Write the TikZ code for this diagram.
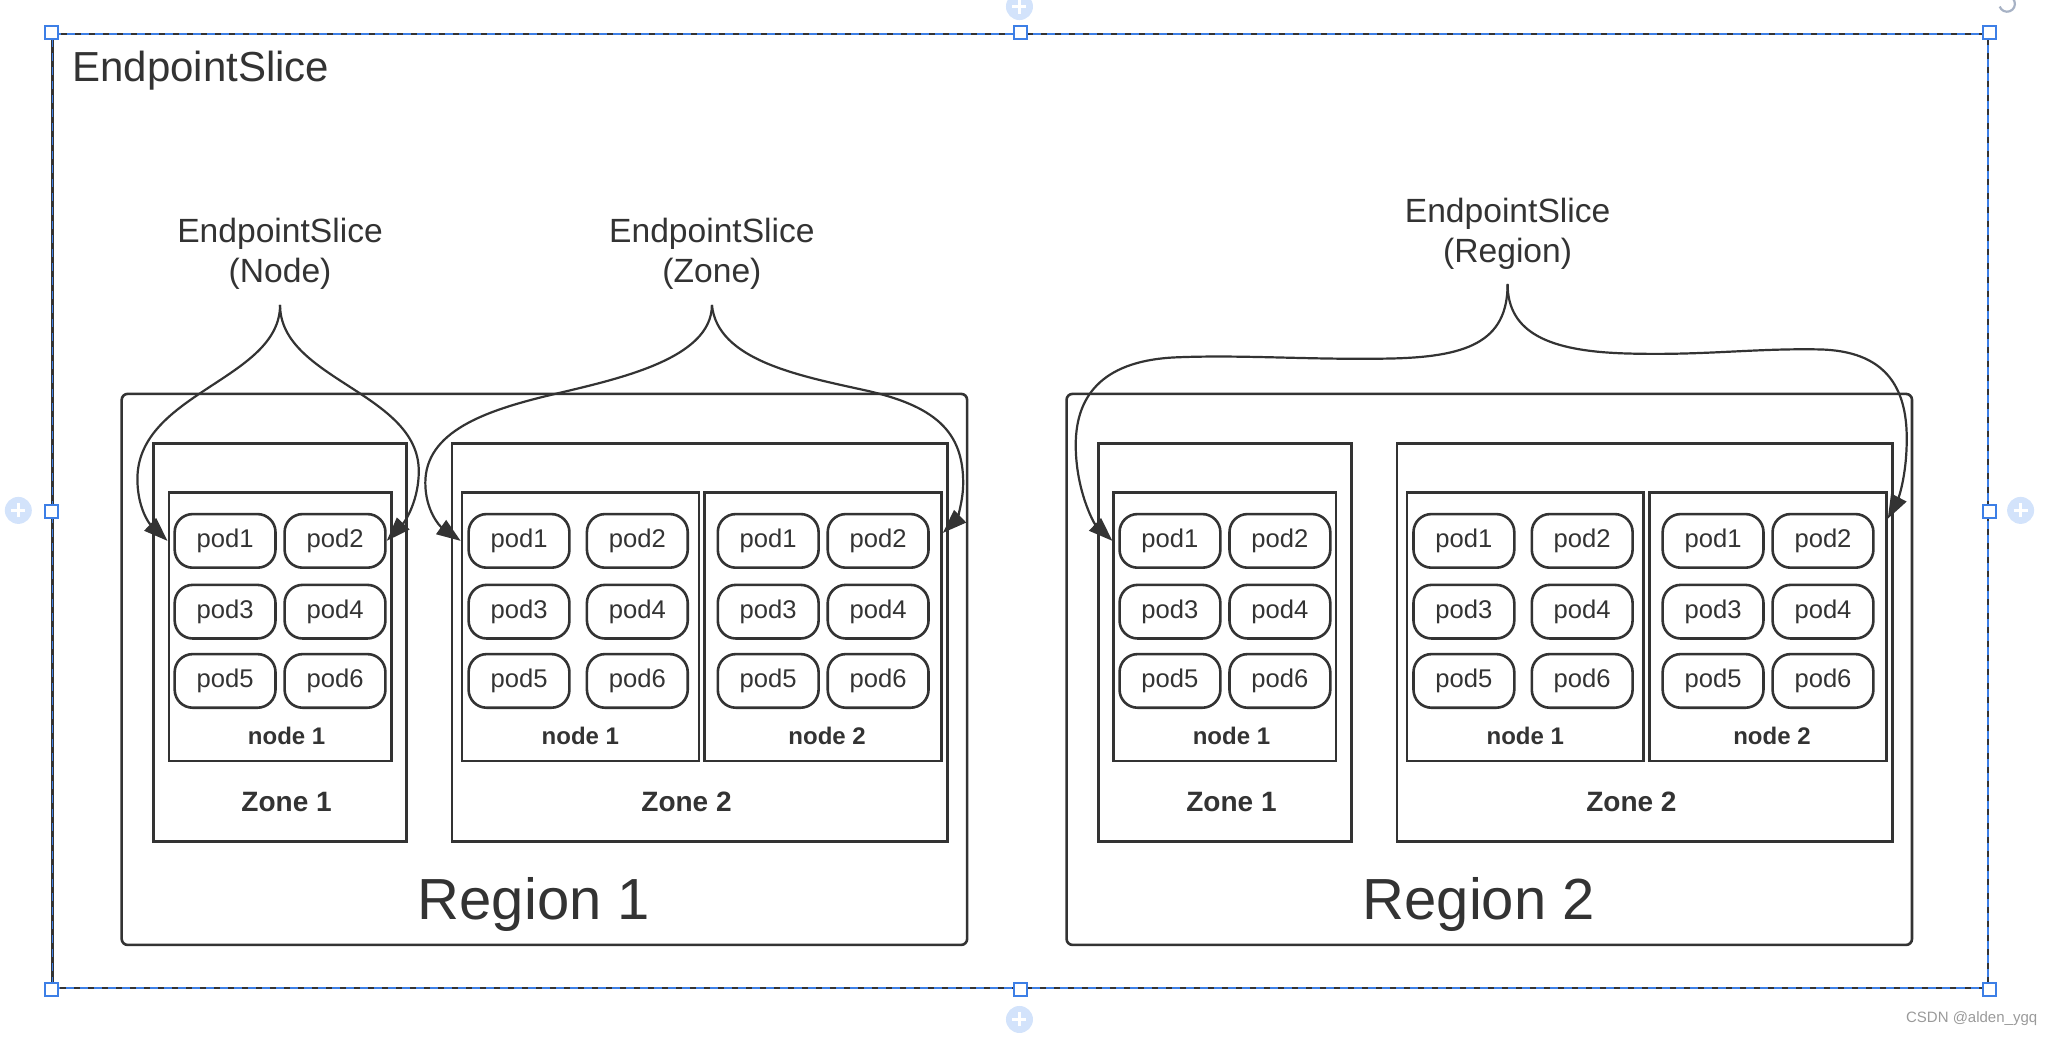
\documentclass[tikz,border=0pt]{standalone}
\usepackage{fontspec}
\setmainfont{Liberation Sans}
\usetikzlibrary{arrows.meta}
\definecolor{inkgray}{HTML}{333333}
\definecolor{selblue}{HTML}{3D7FE6}
\definecolor{plusblue}{HTML}{D3E3FB}
\definecolor{markgray}{HTML}{9A9A9A}
\begin{document}
\begin{tikzpicture}[
x=0.6543pt, y=-0.6543pt,
every node/.style={text=inkgray, inner sep=0pt},
box/.style={rectangle, draw=inkgray, line width=1.3pt},
sliceframe/.style={rectangle, draw=inkgray, line width=1.3pt, minimum width=967.7pt, minimum height=477pt, postaction={draw=selblue, line width=0.8pt, dash pattern=on 4pt off 3pt}},
region/.style={box, rounded corners=3pt, minimum width=422.7pt, minimum height=275.5pt},
zone/.style={box, minimum height=199.1pt},
hostbox/.style={box, minimum height=134.3pt},
pod/.style={box, rounded corners=9pt, minimum width=50.4pt, minimum height=26.8pt, font=\fontsize{12.8}{14}\selectfont},
hostlabel/.style={font=\bfseries\fontsize{12}{14}\selectfont},
zonelabel/.style={font=\bfseries\fontsize{14}{17}\selectfont},
regionlabel/.style={font=\fontsize{29}{35}\selectfont},
slicelabel/.style={align=center, font=\fontsize{16.8}{19.8}\selectfont},
link/.style={draw=inkgray, line width=1.1pt, -{Triangle[length=12pt, width=8.5pt]}},
handle/.style={rectangle, draw=selblue, fill=white, line width=1pt, minimum size=6.5pt},
plus/.style={circle, fill=plusblue, minimum size=13.5pt, path picture={
  \draw[white, line width=1.4pt] ([xshift=-3.5pt]path picture bounding box.center) -- ([xshift=3.5pt]path picture bounding box.center)
    ([yshift=-3.5pt]path picture bounding box.center) -- ([yshift=3.5pt]path picture bounding box.center);}}
]
\useasboundingbox (0,0) rectangle (1568,792);

% outer EndpointSlice frame (editor selection)
\node (slice) [sliceframe] at (779.5,390.5) {};
\node (title) [anchor=west, font=\fontsize{21}{25}\selectfont] at (55,54) {EndpointSlice};

% two regions, same layout
\foreach \r/\dx in {1/0, 2/722} {
\begin{scope}[shift={(\dx,0)}]
\node (r\r) [region] at (416,511.5) {};
\node (r\r-lbl) [regionlabel] at (408,691) {Region \r};
\node (r\r-z1) [zone, minimum width=126.3pt] at (214,491) {};
\node (r\r-z1-lbl) [zonelabel] at (219,613) {Zone 1};
\node (r\r-z2) [zone, minimum width=247.7pt] at (534.7,491) {};
\node (r\r-z2-lbl) [zonelabel] at (524.6,613) {Zone 2};
\node (r\r-z1-n1) [hostbox, minimum width=111.2pt] at (214,479) {};
\node (r\r-z1-n1-lbl) [hostlabel] at (219,562) {node 1};
\node (r\r-z2-n1) [hostbox, minimum width=118.4pt] at (443.5,479) {};
\node (r\r-z2-n1-lbl) [hostlabel] at (443.5,562) {node 1};
\node (r\r-z2-n2) [hostbox, minimum width=118.4pt] at (629,479) {};
\node (r\r-z2-n2-lbl) [hostlabel] at (632,562) {node 2};
\foreach \h/\xa/\xb in {z1-n1/172/256, z2-n1/396.6/487, z2-n2/587/671}
  \foreach \y/\a/\b in {413.3/1/2, 467.4/3/4, 520.3/5/6} {
    \node (r\r-\h-p\a) [pod] at (\xa,\y) {pod\a};
    \node (r\r-\h-p\b) [pod] at (\xb,\y) {pod\b};
  }
\end{scope}
}

% slice labels
\node (slice-node) [slicelabel] at (214,194) {EndpointSlice\\(Node)};
\node (slice-zone) [slicelabel] at (544,194) {EndpointSlice\\(Zone)};
\node (slice-region) [slicelabel] at (1152,178.5) {EndpointSlice\\(Region)};
\coordinate (sn-top) at (214,233);
\coordinate (sz-top) at (544,233);
\coordinate (sr-top) at (1152,217);

\draw [link] (sn-top) .. controls (214,290) and (105,300) .. (105,366) .. controls (105,388) and (114,400) .. (r1-z1-n1.west |- r1-z1-n1-p1);
\draw [link] (sn-top) .. controls (214,290) and (320,300) .. (320,360) .. controls (320,382) and (310,398) .. (r1-z1-n1-p2.east);
\draw [link] (sz-top) .. controls (544,275) and (470,290) .. (420,302) .. controls (370,314) and (325,330) .. (325,369) .. controls (325,390) and (336,402) .. (r1-z2-n1.west |- r1-z2-n1-p1);
\draw [link] (sz-top) .. controls (548,275) and (610,287) .. (660,298) .. controls (715,310) and (736,330) .. (736,369) .. controls (736,385) and (730,398) .. ([yshift=4pt]r1-z2-n2.east |- r1-z2-n2-p2);
\draw [link] (sr-top) .. controls (1152,262) and (1120,273) .. (1060,274) .. controls (1000,275) and (950,271) .. (900,273) .. controls (845,275) and (822,300) .. (822,340) .. controls (822,375) and (836,400) .. (r2-z1-n1.west |- r2-z1-n1-p1);
\draw [link] (sr-top) .. controls (1152,255) and (1185,268) .. (1240,270) .. controls (1300,272) and (1340,266) .. (1390,267) .. controls (1440,268) and (1457,295) .. (1457,335) .. controls (1457,365) and (1450,382) .. ([yshift=-3pt]r2-z2-n2.east |- r2-z2-n2-p2.north);

% selection handles
\foreach \p in {north west, north, north east, west, east, south west, south, south east}
  \node (h-\p) [handle] at (slice.\p) {};
\node (plus-n) [plus] at (779,5) {};
\node (plus-s) [plus] at (779,779) {};
\node (plus-w) [plus] at (14,390) {};
\node (plus-e) [plus] at (1544,390) {};
\draw [selblue!30!gray!60, line width=1.1pt, -{Stealth[length=3pt]}] (1528,5) arc[start angle=160, end angle=-100, radius=6];

\node (mark) [anchor=east, text=markgray, font=\fontsize{7.5}{9}\selectfont] at (1557,778) {CSDN @alden\_ygq};
\end{tikzpicture}
\end{document}
